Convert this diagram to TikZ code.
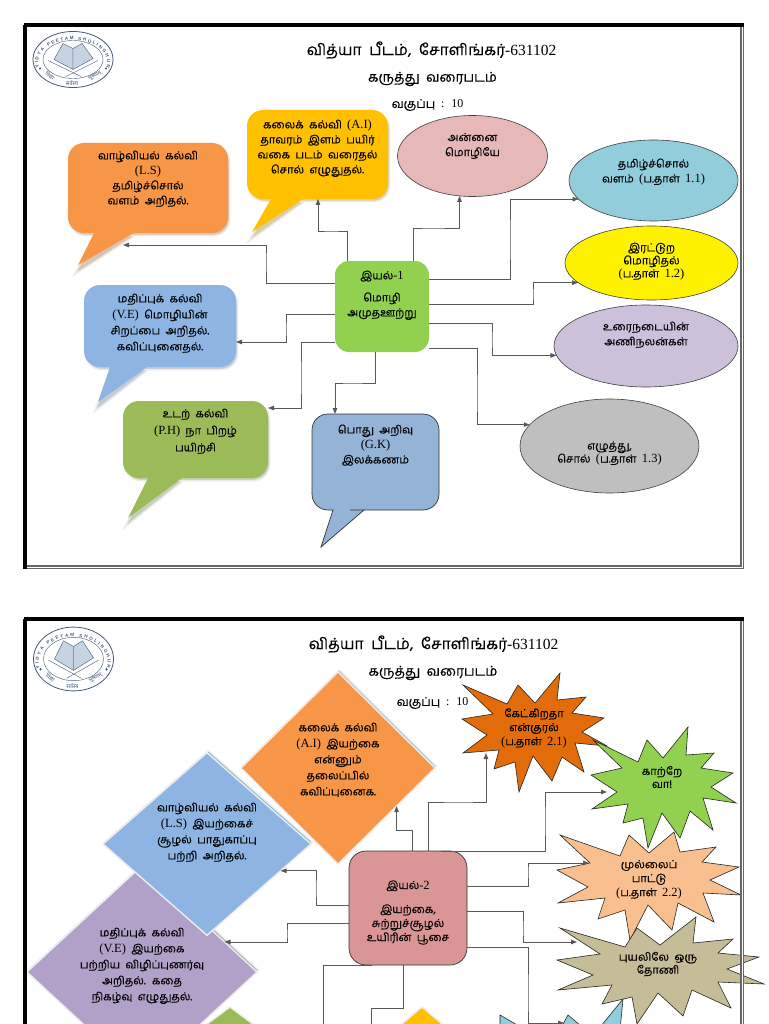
\documentclass[tikz,border=0pt]{standalone}
\usepackage{fontspec}
\usetikzlibrary{arrows.meta,shapes.geometric,shadows,decorations.text}
\setmainfont[Script=Tamil,WordSpace=2,FakeBold=0.25]{Hind Madurai}
\newfontfamily\enfont{Liberation Serif}
\newfontfamily\logofont{Liberation Sans}
\newfontfamily\devfont[Script=Devanagari]{Noto Sans}
\newcommand{\en}[1]{{\enfont\fontsize{12.5}{15}\selectfont #1}}
\newcommand{\bubblepath}[8]{[rounded corners=16] (#1,#2) -- (#3,#2) -- (#3,#4) -- (#6+2,#4) [sharp corners] -- (#6,#4) -- (#7,#8) -- (#5,#4) -- (#5-2,#4) [rounded corners=16] -- (#1,#4) -- cycle}
\newcommand{\bubbleback}[9]{%
  \fill[draw=black!8,line width=1.5,fill=#9!60!black!35!white,shift={(1.5,2.5)}] \bubblepath{#1}{#2}{#3}{#4}{#5}{#6}{#7-5}{#8+7};
  \fill[#9] \bubblepath{#1}{#2}{#3}{#4}{#5}{#6}{#7}{#8};
}
\newcommand{\vidyalogo}[4]{%
  \begin{scope}[shift={(#2,#3)},yscale=#4,logoline]
    \draw[line width=.8] (0,0) ellipse [x radius=40,y radius=28];
    \draw (0,0) ellipse [x radius=30,y radius=19];
    \filldraw[fill=logoblue] (-10,-16) -- (0,-11) -- (0,10) -- (-19,0) -- cycle;
    \filldraw[fill=logoblue] (9,-16) -- (0,-11) -- (0,10) -- (20,-1) -- cycle;
    \draw (-25,1) -- (8,17);
    \draw (25,1) -- (-7,17);
    \fill (-33,9) circle [radius=1.2];
    \fill (33,9) circle [radius=1.2];
    \path[decorate,decoration={text along path,text align=fit to path,text color=logoink,text={|\logofont\fontsize{4.5}{5}\selectfont\bfseries|VIDYA PEETAM SHOLINGHUR}}]
      (-34,8) arc [start angle=167,delta angle=206,x radius=34.5,y radius=22.5];
    \node[logoword,rotate=-35] (#1wordone) at (-23,16) {विद्या};
    \node[logoword] (#1wordtwo) at (-1,24) {सर्वस्य};
    \node[logoword,rotate=30] (#1wordthree) at (22,17) {भूषणम्};
  \end{scope}
}
\definecolor{logoink}{HTML}{44597A}
\definecolor{logoblue}{HTML}{C6D3E2}
\definecolor{lsorange}{HTML}{F79646}
\definecolor{aiyellow}{HTML}{FFC000}
\definecolor{vesky}{HTML}{8DB4E2}
\definecolor{phgreen}{HTML}{9BBB59}
\definecolor{gksteel}{HTML}{95B3D7}
\definecolor{limegreen}{HTML}{92D050}
\definecolor{rosered}{HTML}{DA9694}
\definecolor{aquablue}{HTML}{92CDDC}
\definecolor{palerose}{HTML}{E6B8B7}
\definecolor{palelilac}{HTML}{CCC0DA}
\definecolor{purplegray}{HTML}{B1A0C7}
\definecolor{khakigray}{HTML}{C4BD97}
\definecolor{burnorange}{HTML}{E26B0A}
\definecolor{peach}{HTML}{FABF8F}
\tikzset{
  logoline/.style={draw=logoink,fill=logoink,line width=.4},
  logoword/.style={text=logoink,inner sep=0,font=\devfont\fontsize{5.5}{6}\selectfont},
  caption/.style={align=center,inner sep=0,outer sep=0,font=\fontsize{11}{15}\selectfont},
  bubble/.style={caption,minimum width=#1},
  oval/.style={caption,ellipse,draw=black!75,line width=.6},
  lozenge/.style={caption,diamond,shape aspect=1,font=\fontsize{11}{16}\selectfont,draw=black!7,line width=1.4},
  burst/.style={draw=black!85,line width=.6},
  hub/.style={caption,rounded corners=14},
  link/.style={-{Triangle[length=6,width=4.5]},draw=black!65,line width=.8},
  heading/.style={inner sep=0,font=\fontsize{15.5}{18}\selectfont},
  sheet/.style={draw=black,line width=3.2},
  rim/.style={draw=black!60,line width=1.2,double=white,double distance=1},
}
\begin{document}
\begin{tikzpicture}[x=1pt,y=-1pt]
      \path[use as bounding box,fill=white] (0,0) rectangle (768,1024);
      \clip (0,0) rectangle (768,1024);
      % first sheet, head
      \vidyalogo{one}{73}{59.5}{1}
      \node[heading] (titleone) at (431.5,50) {வித்யா பீடம், சோளிங்கர்{\enfont -631102}};
      \node[heading,font=\fontsize{13.5}{16}\selectfont] (mapone) at (432.5,79) {கருத்து வரைபடம்};
      \node[heading,font=\fontsize{12}{14}\selectfont] (classone) at (427.5,105) {வகுப்பு {\enfont :} {\enfont 10}};
      % first sheet, speech bubbles
      \bubbleback{68}{143}{228}{233}{94}{134}{78}{265}{lsorange}
      \node[bubble=160,minimum height=90,text depth=21] (lsone) at (148,188) {வாழ்வியல் கல்வி\\\en{(L.S)}\\தமிழ்ச்சொல்\\வளம் அறிதல்.};
      \bubbleback{247}{110}{388}{199}{271}{303}{252}{232}{aiyellow}
      \node[bubble=141,minimum height=89,text depth=16] (aione) at (317.5,154.5) {கலைக் கல்வி \en{(A.I)}\\தாவரம் இளம் பயிர்\\வகை படம் வரைதல்\\சொல் எழுதுதல்.};
      \bubbleback{84}{285}{236}{367}{110}{147}{98}{402}{vesky}
      \node[bubble=152,minimum height=82,text depth=8,font=\fontsize{11}{16}\selectfont] (veone) at (160,326) {மதிப்புக் கல்வி\\\en{(V.E)} மொழியின்\\சிறப்பை அறிதல்.\\கவிப்புனைதல்.};
      \bubbleback{123}{401}{268}{478}{148}{182}{128}{518}{phgreen}
      \node[bubble=145,minimum height=77,text depth=19,font=\fontsize{11}{17}\selectfont] (phone) at (195.5,439.5) {உடற் கல்வி\\\en{(P.H)} நா பிறழ்\\பயிற்சி};
      \draw[fill=gksteel,draw=black!80,line width=.7] \bubblepath{312}{414}{439}{510}{333}{364}{321}{547};
      \node[bubble=127,minimum height=96,text depth=36] (gkone) at (375.5,462) {பொது அறிவு\\\en{(G.K)}\\இலக்கணம்};
      % first sheet, ovals
      \node[oval,fill=palerose,minimum width=150,minimum height=81,text depth=23] (annai) at (472.5,156) {அன்னை\\மொழியே};
      \node[oval,fill=aquablue,minimum width=169,minimum height=81,text depth=20] (tamilsol) at (653.5,180.5) {தமிழ்ச்சொல்\\வளம் \en{(}ப.தாள் \en{1.1)}};
      \node[oval,fill=yellow,minimum width=173,minimum height=74,text depth=6,font=\fontsize{11}{13}\selectfont] (irattu) at (651.5,263) {இரட்டுற\\மொழிதல்\\\en{(}ப.தாள் \en{1.2)}};
      \node[oval,fill=palelilac,minimum width=184,minimum height=82,text depth=25] (urai) at (646,346) {உரைநடையின்\\அணிநலன்கள்};
      \node[oval,fill=black!25,minimum width=179,minimum height=94,text height=36,text depth=3,font=\fontsize{11}{13}\selectfont] (ezhuthu) at (609.5,446) {எழுத்து,\\சொல் \en{(}ப.தாள் \en{1.3)}};
      % first sheet, centre
      \node[hub,fill=limegreen,minimum width=94,minimum height=91,text depth=26] (iyalone) at (382,306.5) {இயல்\en{-1}\\[7pt]மொழி\\அமுதஊற்று};
      % from iyal 1
      \draw[link] (iyalone.127) |- (330,231) -| (aione.south -| 318,0);
      \draw[link] (iyalone.55) |- (430,228) -| (annai.252);
      \draw[link] (iyalone.30) -| (510,240) |- (tamilsol.194);
      \draw[link] (iyalone.2) -| (533,295) |- (irattu.195);
      \draw[link] (iyalone.-20) -| (492,340) |- (urai.186);
      \draw[link] (iyalone.-42) -| (477,400) |- (ezhuthu.165);
      \draw[link] (iyalone.262.5) |- (350,383) -| (gkone.north -| 335,0);
      \draw[link] (iyalone.190) -| (286,330) |- (veone.east |- 0,342);
      \draw[link] (iyalone.217) -| (301,380) |- (phone.east |- 0,408);
      \draw[link] (iyalone.154) -| (266,260) |- ([xshift=-25,yshift=-12]lsone.south);
      % second sheet, head
      \vidyalogo{two}{73.5}{659}{1.14}
      \node[heading] (titletwo) at (433.5,644) {வித்யா பீடம், சோளிங்கர்{\enfont -631102}};
      \node[heading,font=\fontsize{13.5}{16}\selectfont] (maptwo) at (433,673) {கருத்து வரைபடம்};
      \node[heading,font=\fontsize{12}{14}\selectfont] (classtwo) at (432.5,703) {வகுப்பு {\enfont :} {\enfont 10}};
      % second sheet, diamonds
      \node[lozenge,fill=phgreen,minimum width=250,minimum height=186] (phtwo) at (230,1100) {};
      \node[lozenge,fill=aiyellow,minimum width=220,minimum height=186] (mantwo) at (422,1100) {};
      \node[lozenge,fill=purplegray,copy shadow={shadow xshift=1.5,shadow yshift=-2,fill=black!35,draw=black!7},minimum width=230,minimum height=192,text depth=16] (vetwo) at (142,972) {மதிப்புக் கல்வி\\\en{(V.E)} இயற்கை\\பற்றிய விழிப்புணர்வு\\அறிதல். கதை\\நிகழ்வு எழுதுதல்.};
      \node[lozenge,fill=vesky,copy shadow={shadow xshift=1.5,shadow yshift=-2,fill=aquablue!70!gray,draw=black!7},minimum width=208,minimum height=182,text depth=26] (lstwo) at (207,844) {வாழ்வியல் கல்வி\\\en{(L.S)} இயற்கைச்\\சூழல் பாதுகாப்பு\\பற்றி அறிதல்.};
      \node[lozenge,fill=lsorange,copy shadow={shadow xshift=1.5,shadow yshift=-2,fill=lsorange!45!gray!60!white,draw=black!7},minimum width=194,minimum height=192,text depth=18] (aitwo) at (338,768) {கலைக் கல்வி\\\en{(A.I)} இயற்கை\\என்னும்\\தலைப்பில்\\கவிப்புனைக.};
      % second sheet, bursts
      \draw[burst,fill=burnorange] (463,685) -- (507,704) -- (518,685) -- (535,703) -- (560,673) -- (557,700) -- (586,697) -- (572,713) -- (604,718) -- (582,732) -- (607,746) -- (575,743) -- (584,772) -- (562,757) -- (552,781) -- (533,756) -- (519,792) -- (515,762) -- (494,769) -- (499,750) -- (463,753) -- (487,735) -- (462,719) -- (493,714) -- cycle;
      \node[caption,font=\fontsize{11}{14}\selectfont,minimum width=96,minimum height=50] (kettal) at (534,728) {கேட்கிறதா\\என்குரல்\\\en{(}ப.தாள் \en{2.1)}};
      \draw[burst,fill=aquablue] (500,1015) -- (519,1026) -- (562,1026) -- (568,1015) -- (581,1026) -- (601,1026) -- (623,999) -- (620,1030) -- (500,1030) -- cycle;
      \draw[burst,fill=peach] (560,835) -- (620,856) -- (629,835) -- (649,853) -- (674,832) -- (680,852) -- (716,847) -- (702,862) -- (739,867) -- (710,880) -- (741,895) -- (703,893) -- (714,922) -- (678,903) -- (672,930) -- (648,905) -- (630,940) -- (625,910) -- (598,919) -- (605,898) -- (558,903) -- (588,887) -- (557,870) -- (590,863) -- cycle;
      \node[caption,font=\fontsize{11}{14}\selectfont,minimum width=120] (mullai) at (649,879.5) {முல்லைப்\\பாட்டு\\\en{(}ப.தாள் \en{2.2)}};
      \draw[burst,fill=limegreen] (593,740) -- (638,762) -- (647,740) -- (663,758) -- (688,727) -- (686,755) -- (714,753) -- (701,768) -- (733,773) -- (711,787) -- (736,803) -- (703,798) -- (713,830) -- (690,811) -- (680,838) -- (662,813) -- (648,848) -- (643,818) -- (623,823) -- (628,804) -- (592,809) -- (617,792) -- (591,775) -- (622,768) -- cycle;
      \node[caption,font=\fontsize{11}{13}\selectfont,minimum width=110] (kaatru) at (662,777) {காற்றே\\வா!};
      \draw[burst,fill=khakigray] (560,928) -- (625,947) -- (637,928) -- (660,945) -- (696,917) -- (693,943) -- (733,939) -- (718,953) -- (759,957) -- (727,969) -- (764,984) -- (718,982) -- (731,1008) -- (692,990) -- (683,1016) -- (658,993) -- (637,1024) -- (632,997) -- (602,1004) -- (612,985) -- (558,990) -- (593,975) -- (557,960) -- (600,954) -- cycle;
      \node[caption,font=\fontsize{11}{13}\selectfont,minimum width=162] (puyal) at (658,964) {புயலிலே ஒரு\\தோணி};
      \coordinate (bluestar) at (564,1023);
      % second sheet, centre
      \node[hub,rounded corners=17,draw=black!80,line width=.7,fill=rosered,minimum width=118,minimum height=114,text height=69,text depth=3,font=\fontsize{11}{14}\selectfont] (iyaltwo) at (408,908) {இயல்\en{-2}\\[10pt]இயற்கை,\\சுற்றுச்சூழல்\\உயிரின் பூசை};
      % from iyal 2
      \draw[link] (iyaltwo.86) |- (405,830) -| (aitwo.327);
      \draw[link] (iyaltwo.70) |- (460,802) -| (kettal.south west);
      \draw[link] (iyaltwo.60) -| (545,820) |- ([yshift=-15]kaatru.west);
      \draw[link] (iyaltwo.20) -| (528,870) |- ([yshift=16.5]mullai.west);
      \draw[link] (iyaltwo.-3) -| (523,930) |- ([yshift=22]puyal.west);
      \draw[link] (iyaltwo.-34) -| (528,1000) |- (bluestar);
      \draw[link] (iyaltwo.177) -| (316,890) |- (lstwo.340);
      \draw[link] (iyaltwo.195) -| (287,935) |- (vetwo.20);
      \draw[link] (iyaltwo.238) -| (phtwo.14);
      \draw[link] (iyaltwo.265) |- (390,1008) -| (mantwo.135);
      % sheet borders
      \draw[rim] (742,25) -- (742,567) -- (25,567);
      \draw[sheet] (23.5,25) -- (744,25);
      \draw[sheet] (25,25) -- (25,569);
      \draw[rim] (742,619) -- (742,1030);
      \draw[sheet] (23.5,619) -- (744,619);
      \draw[sheet] (25,619) -- (25,1030);
\end{tikzpicture}
\end{document}
